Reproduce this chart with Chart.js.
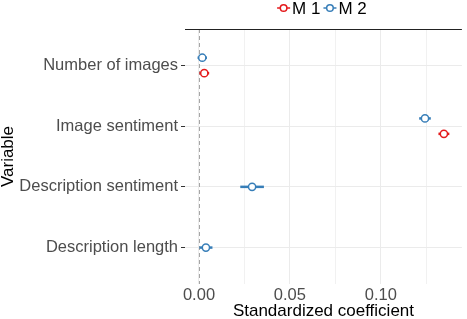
<!DOCTYPE html>
<html>
<head>
<meta charset="utf-8">
<script src="https://cdn.jsdelivr.net/npm/chart.js@4.4.1/dist/chart.umd.min.js"></script>
<style>
  html, body { margin: 0; padding: 0; background: #fff; }
  #wrap { width: 467px; height: 319px; }
</style>
</head>
<body>
<div id="wrap"><canvas id="myChart"></canvas></div>
<script>
// variables, top to bottom
const categories = ["Number of images", "Image sentiment", "Description sentiment", "Description length"];
// estimates and half-widths of the intervals (null = not in model)
const m1Est = [0.0029, 0.1347, null, null];
const m1Err = [0.0027, 0.0030, null, null];
const m2Est = [0.0018, 0.1243, 0.0292, 0.0038];
const m2Err = [0.0026, 0.0032, 0.0065, 0.0036];
const xTicks = [0, 0.025, 0.05, 0.075, 0.10, 0.125];
const modelNames = ["M 1", "M 2"];

const RED = "#E41A1C";
const BLUE = "#377EB8";
const FONT = "'Liberation Sans', Arial, sans-serif";
const DODGE = 0.127;

function toPoints(est, err, other, side) {
    const pts = [];
    est.forEach(function (v, i) {
        if (v === null) return;
        const off = other[i] === null ? 0 : side * DODGE;
        pts.push({ x: v, y: i + off, lo: v - err[i], hi: v + err[i] });
    });
    return pts;
}

const errorBars = {
    id: "errorBars",
    beforeDatasetsDraw(chart) {
        const ctx = chart.ctx;
        const xs = chart.scales.x, ys = chart.scales.y, area = chart.chartArea;
        // dashed zero line
        ctx.save();
        ctx.strokeStyle = "#A6A6A6";
        ctx.lineWidth = 1;
        ctx.setLineDash([4, 3]);
        const x0 = Math.round(xs.getPixelForValue(0)) + 0.5;
        ctx.beginPath();
        ctx.moveTo(x0, area.top);
        ctx.lineTo(x0, area.bottom);
        ctx.stroke();
        ctx.setLineDash([]);
        chart.data.datasets.forEach(function (ds) {
            ctx.strokeStyle = ds.borderColor;
            ctx.lineWidth = 2.5;
            ds.data.forEach(function (p) {
                const y = ys.getPixelForValue(p.y);
                ctx.beginPath();
                ctx.moveTo(xs.getPixelForValue(p.lo), y);
                ctx.lineTo(xs.getPixelForValue(p.hi), y);
                ctx.stroke();
            });
        });
        ctx.restore();
    },
    afterDraw(chart) {
        const ctx = chart.ctx, area = chart.chartArea;
        ctx.save();
        // top rule
        ctx.strokeStyle = "#222";
        ctx.lineWidth = 1.2;
        ctx.beginPath();
        ctx.moveTo(area.left, area.top + 0.5);
        ctx.lineTo(area.right, area.top + 0.5);
        ctx.stroke();
        // legend
        ctx.font = "17px " + FONT;
        const glyphW = 13, gap = 2;
        let total = 0;
        modelNames.forEach(function (n) { total += glyphW + gap + ctx.measureText(n).width + 3; });
        let x = (area.left + area.right) / 2 - total / 2;
        const y = 8;
        chart.data.datasets.forEach(function (ds, i) {
            ctx.strokeStyle = ds.borderColor;
            ctx.lineWidth = 1.5;
            ctx.beginPath();
            ctx.moveTo(x, y);
            ctx.lineTo(x + glyphW, y);
            ctx.stroke();
            ctx.beginPath();
            ctx.arc(x + glyphW / 2, y, 3.3, 0, Math.PI * 2);
            ctx.fillStyle = "#fff";
            ctx.fill();
            ctx.stroke();
            ctx.fillStyle = "#000";
            ctx.textBaseline = "middle";
            ctx.textAlign = "left";
            ctx.fillText(modelNames[i], x + glyphW + gap, y + 1);
            x += glyphW + gap + ctx.measureText(modelNames[i]).width + 3;
        });
        ctx.restore();
    }
};

const ctx = document.getElementById("myChart").getContext("2d");
new Chart(ctx, {
    type: "scatter",
    data: {
        datasets: [
            { label: modelNames[0], data: toPoints(m1Est, m1Err, m2Est, 1), borderColor: RED },
            { label: modelNames[1], data: toPoints(m2Est, m2Err, m1Est, -1), borderColor: BLUE }
        ]
    },
    options: {
        responsive: true,
        maintainAspectRatio: false,
        animation: false,
        layout: { padding: { top: 29, right: 4, left: 0, bottom: 0 } },
        elements: {
            point: { radius: 3.6, borderWidth: 1.5, backgroundColor: "#fff", hoverRadius: 3.6 }
        },
        plugins: { legend: { display: false }, tooltip: { enabled: false } },
        scales: {
            x: {
                type: "linear",
                min: -0.0077,
                max: 0.1446,
                afterBuildTicks: function (scale) {
                    scale.ticks = xTicks.map(function (v) { return { value: v }; });
                },
                afterFit: function (scale) { scale.height = 35; },
                grid: {
                    color: "#EBEBEB",
                    lineWidth: function (c) {
                        return c.tick && Math.abs(c.tick.value / 0.05 - Math.round(c.tick.value / 0.05)) < 1e-6 ? 1 : 0.7;
                    },
                    drawTicks: false
                },
                border: { display: false },
                ticks: {
                    autoSkip: false,
                    maxRotation: 0,
                    padding: 2,
                    color: "#4D4D4D",
                    font: { family: FONT, size: 16.5 },
                    callback: function (v) {
                        const r = v / 0.05;
                        return Math.abs(r - Math.round(r)) < 1e-6 ? v.toFixed(2) : "";
                    }
                },
                title: {
                    display: true,
                    text: "Standardized coefficient",
                    color: "#000",
                    padding: { top: 0, bottom: 0 },
                    font: { family: FONT, size: 17, lineHeight: 0.9 }
                }
            },
            y: {
                type: "linear",
                reverse: true,
                min: -0.6,
                max: 3.6,
                afterBuildTicks: function (scale) {
                    scale.ticks = categories.map(function (c, i) { return { value: i }; });
                },
                afterFit: function (scale) { scale.width = 185; },
                grid: { color: "#EBEBEB", lineWidth: 1, tickLength: 4, tickColor: "#333" },
                border: { display: false },
                ticks: {
                    autoSkip: false,
                    padding: 3,
                    color: "#4D4D4D",
                    font: { family: FONT, size: 16.5 },
                    callback: function (v) { return categories[v]; }
                },
                title: {
                    display: true,
                    text: "Variable",
                    color: "#000",
                    padding: 0,
                    font: { family: FONT, size: 17, lineHeight: 1 }
                }
            }
        }
    },
    plugins: [errorBars]
});
</script>
</body>
</html>
